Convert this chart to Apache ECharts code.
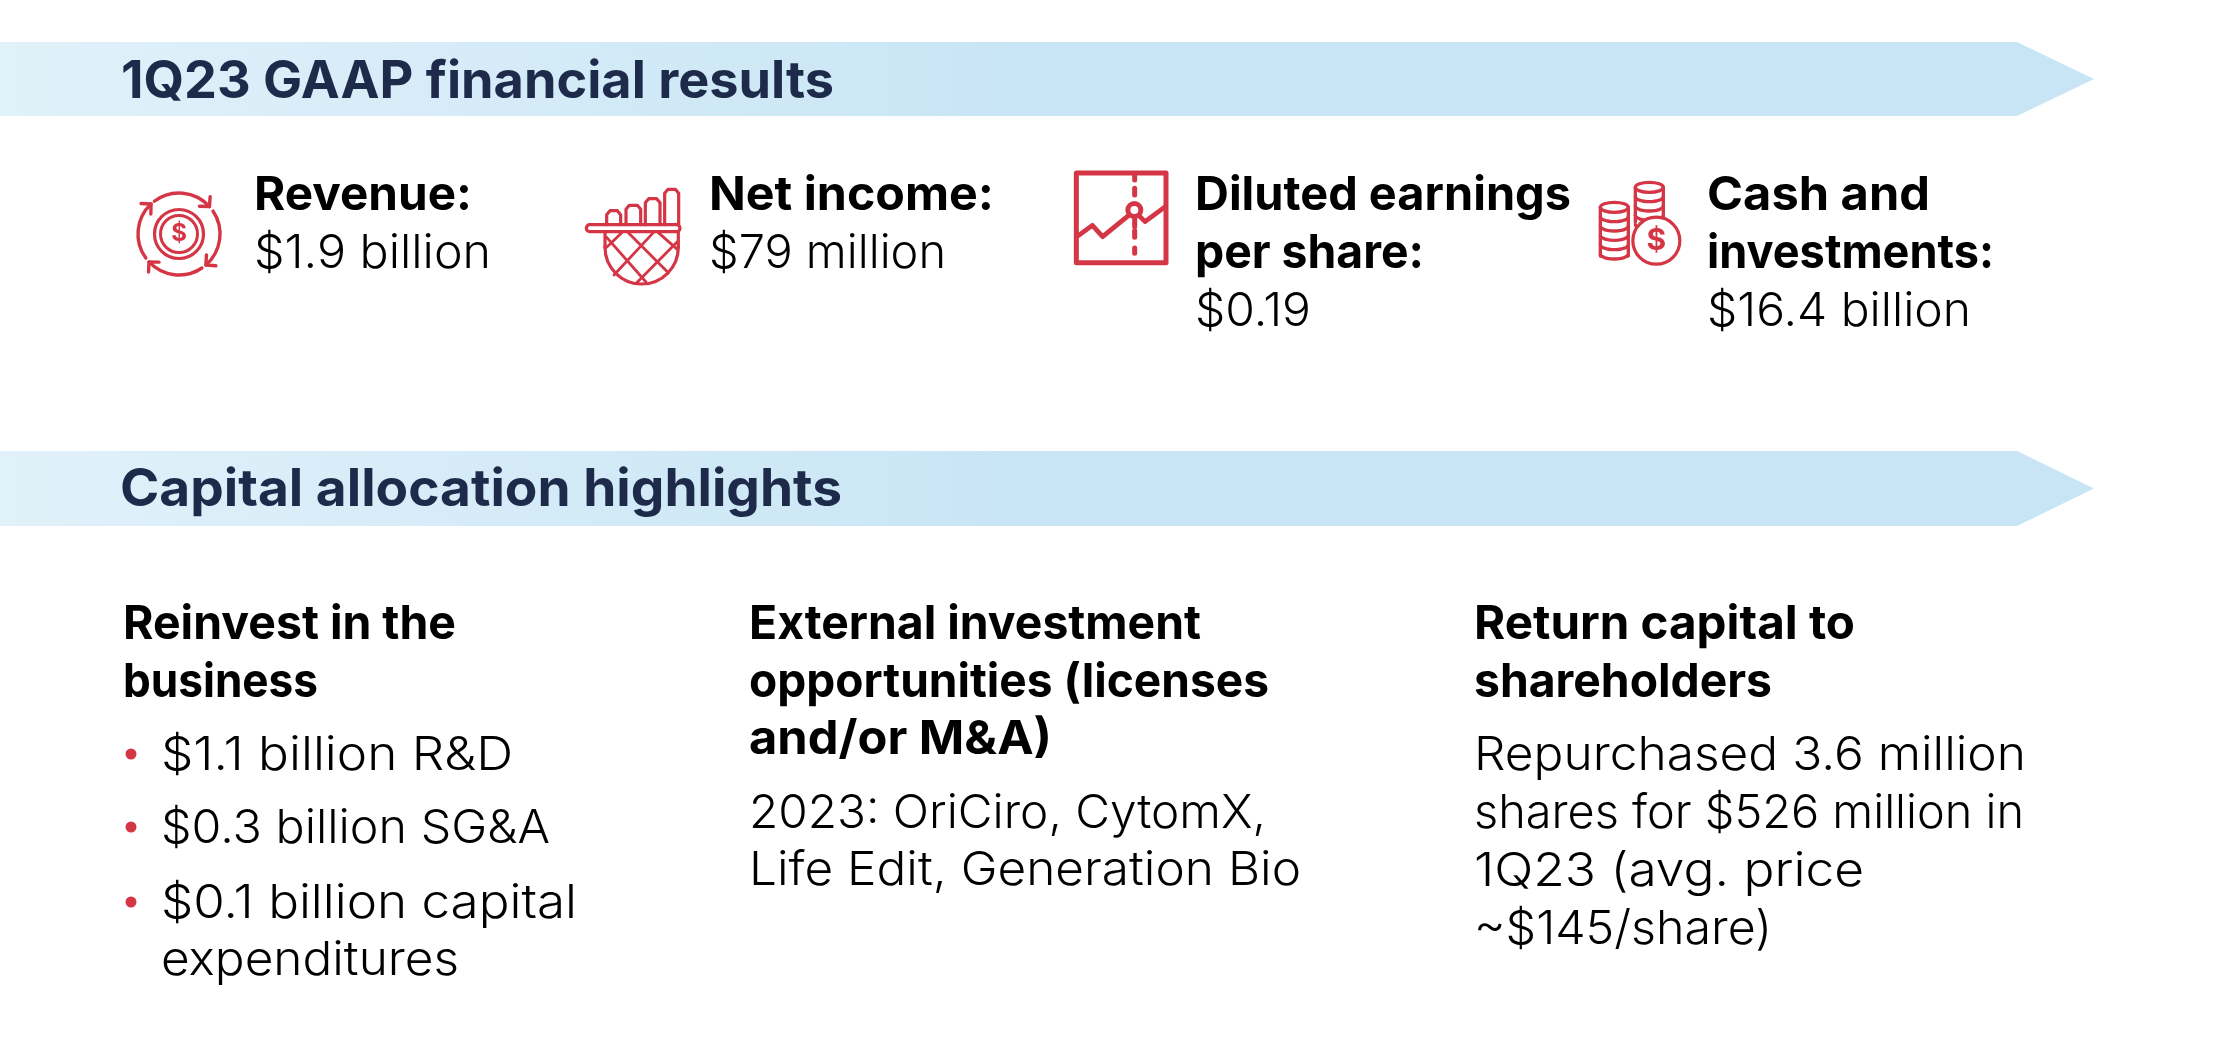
<!DOCTYPE html>
<html>
<head>
<meta charset="utf-8">
<style>html,body{margin:0;padding:0;background:#fff}#main{width:2222px;height:1056px}</style>
<script src="https://cdn.jsdelivr.net/npm/echarts@6/dist/echarts.min.js"></script>
</head>
<body>
<div id="main"></div>
<script>
// text of the slide
const bannerTitles = ['1Q23 GAAP financial results', 'Capital allocation highlights'];
const metricHeads = [['Revenue:'], ['Net income:'], ['Diluted earnings', 'per share:'], ['Cash and', 'investments:']];
const metricValues = ['$1.9 billion', '$79 million', '$0.19', '$16.4 billion'];
const allocationHeads = [
  ['Reinvest in the', 'business'],
  ['External investment', 'opportunities (licenses', 'and/or M&A)'],
  ['Return capital to', 'shareholders']
];
const reinvestBullets = [['$1.1 billion R&D'], ['$0.3 billion SG&A'], ['$0.1 billion capital', 'expenditures']];
const externalBody = ['2023: OriCiro, CytomX,', 'Life Edit, Generation Bio'];
const returnBody = ['Repurchased 3.6 million', 'shares for $526 million in', '1Q23 (avg. price', '~$145/share)'];

const RED = '#d43646';
const NAVY = '#1e2a4a';
const FONT = 'Inter';
const BODY = 350;

// how wide each line runs in the slide, the fallback font gets stretched to it
const lineWidths = {
  '1Q23 GAAP financial results': 713, 'Capital allocation highlights': 722,
  'Revenue:': 218, '$1.9 billion': 237, 'Net income:': 285, '$79 million': 237,
  'Diluted earnings': 376, 'per share:': 229, '$0.19': 116,
  'Cash and': 223, 'investments:': 287, '$16.4 billion': 264,
  'Reinvest in the': 333, 'business': 195, 'External investment': 452,
  'opportunities (licenses': 520, 'and/or M&A)': 303, 'Return capital to': 381, 'shareholders': 298,
  '$1.1 billion R&D': 352, '$0.3 billion SG&A': 389, '$0.1 billion capital': 416, 'expenditures': 298,
  '2023: OriCiro, CytomX,': 517, 'Life Edit, Generation Bio': 552,
  'Repurchased 3.6 million': 552, 'shares for $526 million in': 550, '1Q23 (avg. price': 390, '~$145/share)': 298
};
const measure = document.createElement('canvas').getContext('2d');
const els = [];

function label(text, x, baseline, size, weight, color) {
  const font = weight + ' ' + size + 'px ' + FONT;
  measure.font = font;
  els.push({
    type: 'text', x: x, y: baseline - size * 0.36 + 1, silent: true,
    scaleX: lineWidths[text] / measure.measureText(text).width,
    style: {
      text: text, x: 0, y: 0, fill: color || '#000',
      font: font, verticalAlign: 'middle', align: 'left'
    }
  });
}
function banner(top, bottom) {
  const mid = (top + bottom) / 2;
  els.push({
    type: 'polygon', silent: true,
    shape: { points: [[0, top], [2017, top], [2094, mid], [2017, bottom], [0, bottom]] },
    style: {
      fill: new echarts.graphic.LinearGradient(0, 0, 1, 0, [
        { offset: 0, color: '#e1f1fa' }, { offset: 0.5, color: '#c8e5f5' }, { offset: 1, color: '#c8e5f5' }
      ])
    }
  });
}
const stroke = (w) => ({ fill: 'none', stroke: RED, lineWidth: w, lineCap: 'round', lineJoin: 'round' });
function poly(points, w) { els.push({ type: 'polyline', silent: true, shape: { points: points }, style: stroke(w) }); }
function circle(cx, cy, r, w, fill) {
  els.push({ type: 'circle', silent: true, shape: { cx: cx, cy: cy, r: r }, style: Object.assign(stroke(w), fill ? { fill: fill } : {}) });
}

// revenue icon
function revenueIcon(cx, cy) {
  const r = 41;
  [[-127, -42], [-34, 49], [56, 137], [144, 227]].forEach(([a, b]) => {
    const s = a * Math.PI / 180, e = b * Math.PI / 180;
    els.push({ type: 'arc', silent: true, shape: { cx: cx, cy: cy, r: r, startAngle: s, endAngle: e, clockwise: true }, style: stroke(3.4) });
    const ex = cx + r * Math.cos(e), ey = cy + r * Math.sin(e);
    const back = e - Math.PI / 2;
    poly([[ex + 10 * Math.cos(back + 0.8), ey + 10 * Math.sin(back + 0.8)], [ex, ey], [ex + 10 * Math.cos(back - 0.8), ey + 10 * Math.sin(back - 0.8)]], 3.4);
  });
  circle(cx, cy, 24.5, 3.2);
  circle(cx, cy, 18.5, 3);
  els.push({ type: 'text', x: cx, y: cy, silent: true, style: { text: '$', x: 0, y: 0, fill: RED, font: '700 24px ' + FONT, align: 'center', verticalAlign: 'middle' } });
}
// net income icon, points read in 1/3 px from the top left of the crop
function netIcon(ox, oy) {
  const p = (x, y) => [ox + x / 3, oy + y / 3];
  els.push({ type: 'rect', silent: true, shape: { x: ox + 49 / 3, y: oy + 194 / 3, width: 281 / 3, height: 21 / 3, r: 3.5 }, style: stroke(3.2) });
  [[110, 152, 152], [168, 212, 136], [226, 270, 116], [284, 326, 88]].forEach(([a, b, t]) => {
    poly([p(a, 194), p(a, t + 12), p(a + 10, t), p(b - 10, t), p(b, t + 12), p(b, 194)], 3.2);
  });
  poly([p(105, 216), p(105, 262)], 3.2);
  poly([p(325, 216), p(325, 262)], 3.2);
  els.push({ type: 'arc', silent: true, shape: { cx: ox + 215 / 3, cy: oy + 262 / 3, r: 110 / 3, startAngle: 0, endAngle: Math.PI, clockwise: true }, style: stroke(3.2) });
  [[[110, 232], [228, 366]], [[175, 218], [295, 338]], [[265, 218], [322, 268]],
   [[110, 262], [155, 218]], [[132, 345], [250, 218]], [[200, 368], [322, 245]]].forEach(([a, b]) => poly([p(a[0], a[1]), p(b[0], b[1])], 2.8));
}
// earnings icon
function epsIcon(ox, oy) {
  const p = (x, y) => [ox + x / 3, oy + y / 3];
  els.push({ type: 'rect', silent: true, shape: { x: ox + 49 / 3, y: oy + 39 / 3, width: 269 / 3, height: 269 / 3 }, style: stroke(5) });
  [[48, 60], [85, 105], [172, 200], [212, 232], [264, 280]].forEach(([a, b]) => poly([p(224, a), p(224, b)], 5));
  poly([p(56, 226), p(97, 196), p(128, 230), p(206, 166)], 4.8);
  poly([p(240, 170), p(255, 185), p(316, 140)], 4.8);
  circle(ox + 223 / 3, oy + 150 / 3, 6.5, 5, '#fff');
}
// cash icon
function cashIcon(ox, oy) {
  const p = (x, y) => [ox + x / 3, oy + y / 3];
  const half = (cx, cy, rx, ry) => {
    const pts = [];
    for (let a = 0; a <= 180; a += 15) pts.push(p(cx + rx * Math.cos(a * Math.PI / 180), cy + ry * Math.sin(a * Math.PI / 180)));
    return pts;
  };
  [[88, 112, 5, 262], [193, 52, 4, 160]].forEach(([cx, top, n, bottom]) => {
    els.push({ type: 'ellipse', silent: true, shape: { cx: ox + cx / 3, cy: oy + top / 3, rx: 42 / 3, ry: 15 / 3 }, style: stroke(3.3) });
    for (let i = 1; i <= n; i++) poly(half(cx, top + i * 28, 42, 15), 3.3);
    poly([p(cx - 42, top), p(cx - 42, bottom - 4)], 3.3);
    poly([p(cx + 42, top), p(cx + 42, bottom - 4)], 3.3);
  });
  circle(ox + 214 / 3, oy + 212 / 3, 23.5, 3.2, '#fff');
  els.push({ type: 'text', x: ox + 214 / 3, y: oy + 212 / 3, silent: true, style: { text: '$', x: 0, y: 0, fill: RED, font: '700 30px ' + FONT, align: 'center', verticalAlign: 'middle' } });
}

banner(42, 116);
banner(451, 526);
label(bannerTitles[0], 121, 100, 52, 700, NAVY);
label(bannerTitles[1], 120, 508, 52, 700, NAVY);

revenueIcon(179, 234);
netIcon(570, 160);
epsIcon(1060, 160);
cashIcon(1585, 170);

const metricX = [254, 709, 1195, 1707];
metricHeads.forEach((lines, i) => {
  let base = 212;
  lines.forEach((t) => { label(t, metricX[i], base, 47, 700); base += 58; });
  label(metricValues[i], metricX[i], base, 47, BODY);
});

const columnX = [123, 749, 1474];
allocationHeads.forEach((lines, i) => {
  lines.forEach((t, j) => label(t, columnX[i], 641 + j * 57.5, 47, 700));
});
const bulletBase = [772, 845, 920];
reinvestBullets.forEach((lines, i) => {
  els.push({ type: 'circle', silent: true, shape: { cx: 131, cy: bulletBase[i] - 18, r: 5.5 }, style: { fill: RED } });
  lines.forEach((t, j) => label(t, 161, bulletBase[i] + j * 57, 47, BODY));
});
externalBody.forEach((t, j) => label(t, 749, 830 + j * 57, 47, BODY));
returnBody.forEach((t, j) => label(t, 1474, 772 + j * 58, 47, BODY));

const chart = echarts.init(document.getElementById('main'), null, { renderer: 'canvas' });
chart.setOption({ animation: false, backgroundColor: '#fff', graphic: { elements: els } });
</script>
</body>
</html>
